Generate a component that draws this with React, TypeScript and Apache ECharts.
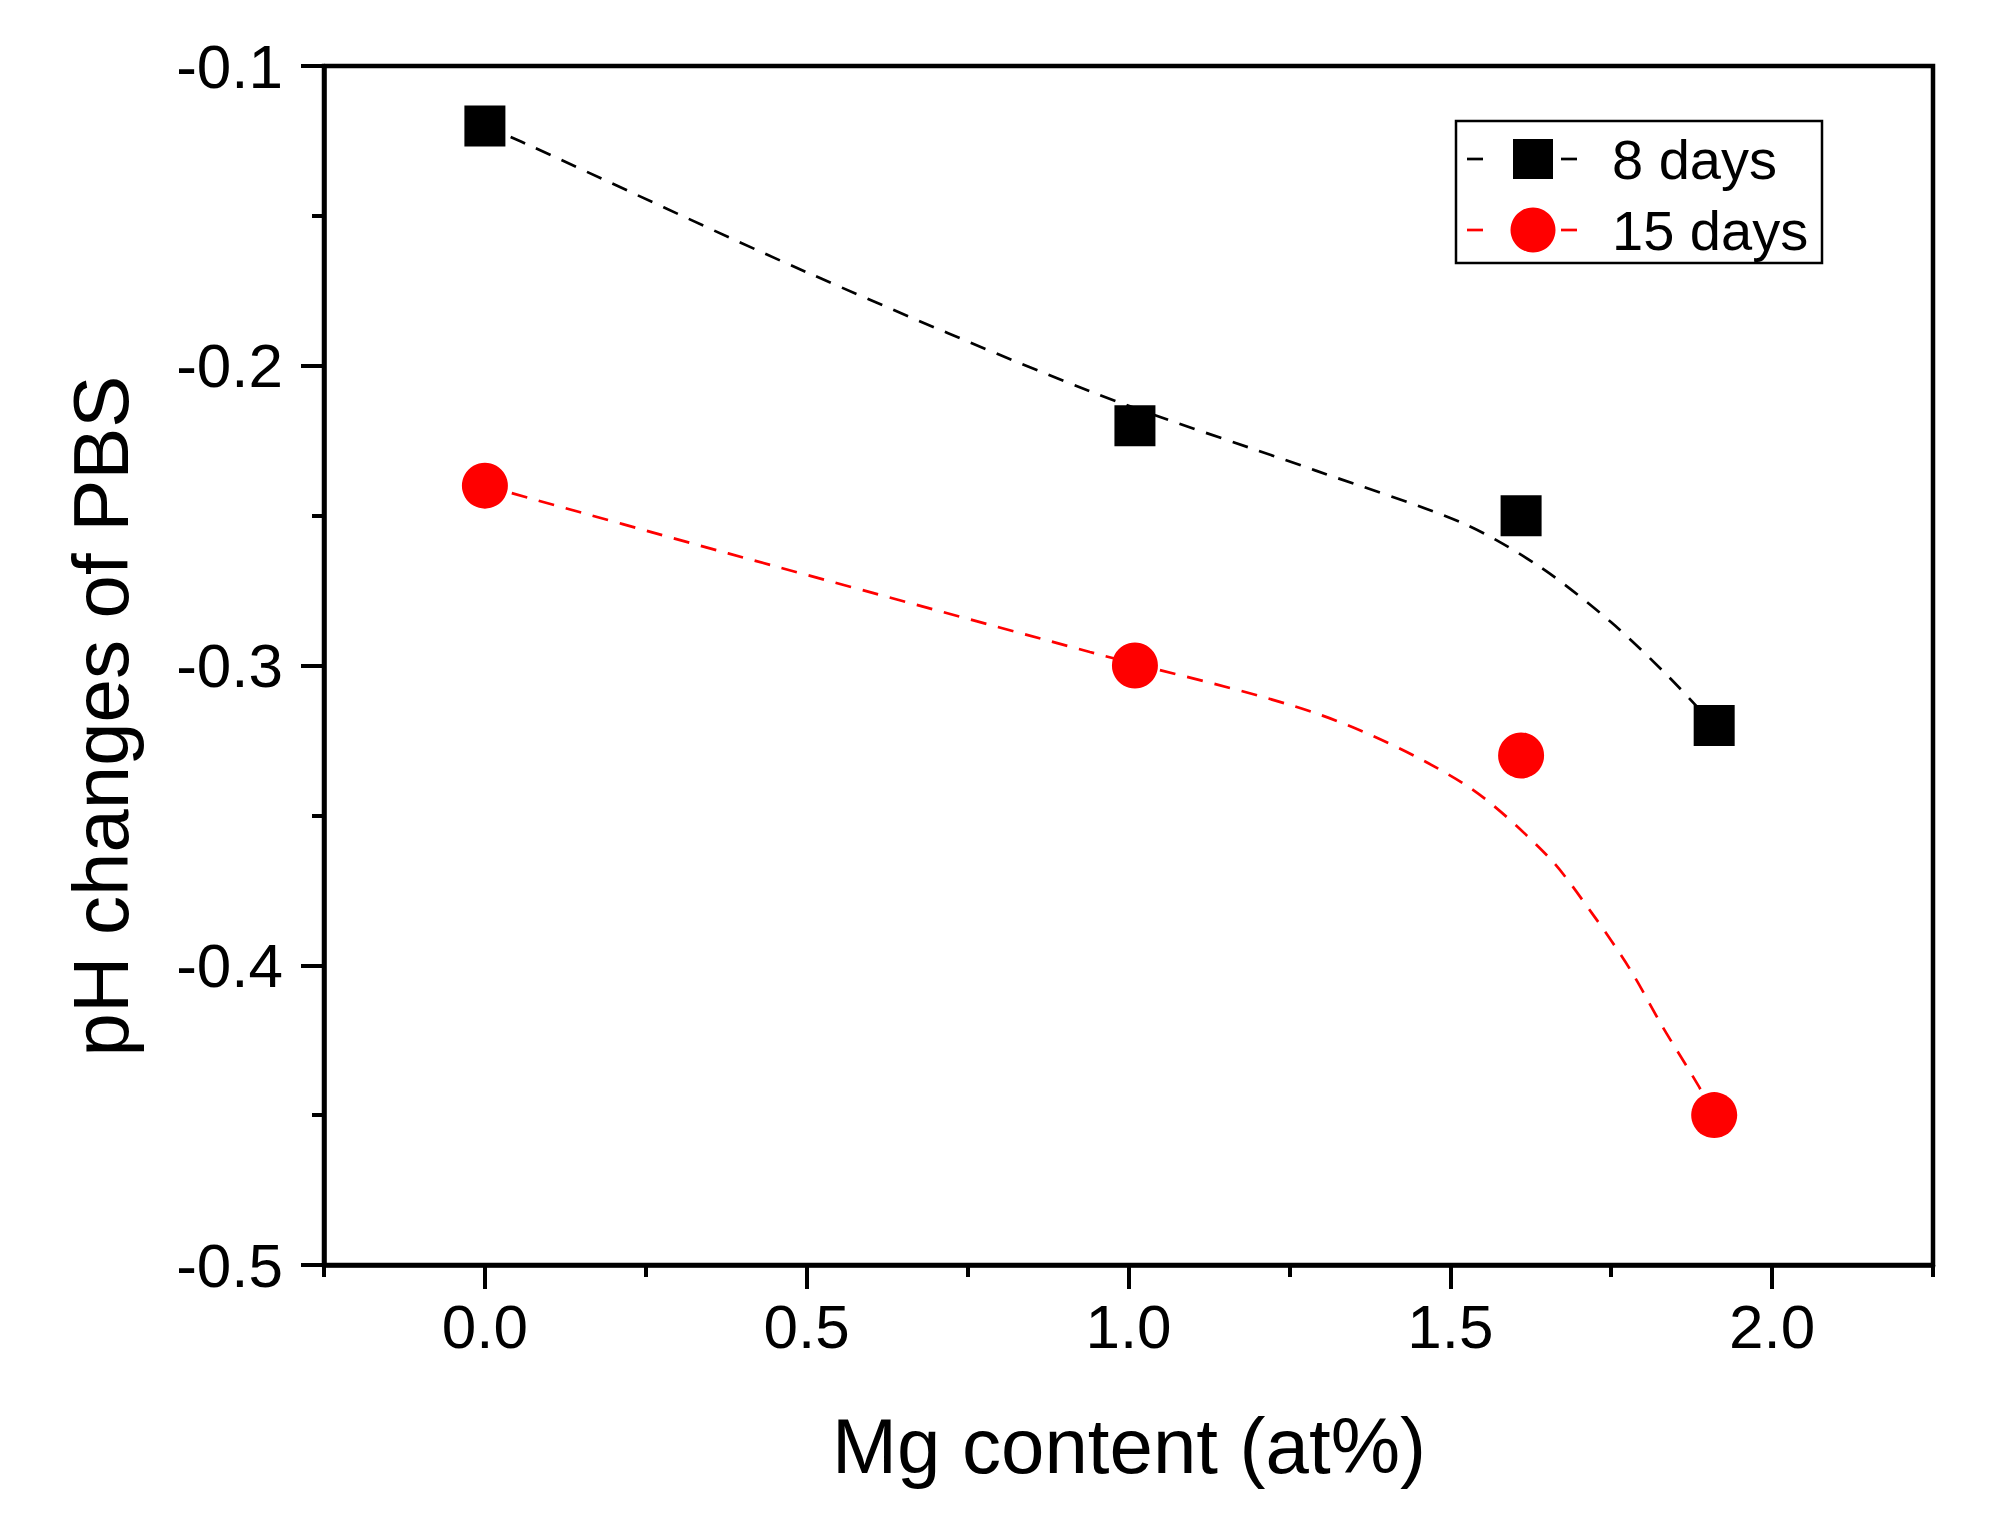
import React, { useEffect, useRef } from "react";
import * as echarts from "echarts";

// ---- data ----
const xTickValues = [0, 0.5, 1.0, 1.5, 2.0];
const mgContent = [0, 1.01, 1.61, 1.91];
const ph8Days = [-0.12, -0.22, -0.25, -0.32];
const ph15Days = [-0.24, -0.3, -0.33, -0.45];

// dashed fitted curves
const fit8X = [0, 0.056, 0.5, 0.94, 1.29, 1.52, 1.64, 1.75, 1.84, 1.91];
const fit8Y = [-0.12, -0.1252, -0.1688, -0.2085, -0.2349, -0.2526, -0.2672, -0.2856, -0.3039, -0.32];
const fit15X = [0, 0.378, 0.94, 1.3, 1.52, 1.65, 1.72, 1.78, 1.83, 1.885, 1.91];
const fit15Y = [-0.24, -0.2626, -0.2955, -0.3166, -0.3393, -0.3633, -0.3826, -0.4016, -0.4206, -0.44, -0.45];

const seriesNames = ["8 days", "15 days"];
const seriesColors = ["#000000", "#ff0000"];

const FONT = "Liberation Sans, Arial, sans-serif";

export default function App() {
  const ref = useRef<HTMLDivElement>(null);

  useEffect(() => {
    if (!ref.current) return;
    const chart = echarts.init(ref.current, undefined, { renderer: "svg" });

    const pts = (xs: number[], ys: number[]) => xs.map((x, i) => [x, ys[i]]);

    const legendRows = [159, 230];

    const option: any = {
      animation: false,
      backgroundColor: "#ffffff",
      grid: {
        left: 324,
        right: 75,
        top: 66,
        bottom: 263,
        show: true,
        borderColor: "#000",
        borderWidth: 4.5,
        backgroundColor: "transparent",
      },
      xAxis: [
        {
          type: "value",
          min: -0.25,
          max: 2.25,
          position: "bottom",
          axisLine: { show: true, onZero: false, lineStyle: { color: "#000", width: 4.5 } },
          axisTick: {
            show: true,
            customValues: xTickValues,
            length: 24,
            lineStyle: { color: "#000", width: 4 },
          },
          axisLabel: {
            show: true,
            customValues: xTickValues,
            formatter: (v: number) => v.toFixed(1),
            fontSize: 62,
            fontFamily: FONT,
            color: "#000",
            margin: 30,
          },
          splitLine: { show: false },
        },
        {
          type: "value",
          min: -0.25,
          max: 2.25,
          interval: 0.5,
          position: "bottom",
          axisLine: { show: false, onZero: false },
          axisTick: { show: true, length: 12, lineStyle: { color: "#000", width: 4 } },
          axisLabel: { show: false },
          splitLine: { show: false },
        },
      ],
      yAxis: {
        type: "value",
        min: -0.5,
        max: -0.1,
        interval: 0.1,
        axisLine: { show: true, onZero: false, lineStyle: { color: "#000", width: 4.5 } },
        axisTick: { show: true, length: 23, lineStyle: { color: "#000", width: 4 } },
        minorTick: { show: true, splitNumber: 2, length: 12, lineStyle: { color: "#000", width: 4 } },
        axisLabel: {
          formatter: (v: number) => v.toFixed(1),
          fontSize: 62,
          fontFamily: FONT,
          color: "#000",
          margin: 41,
        },
        splitLine: { show: false },
        minorSplitLine: { show: false },
      },
      series: [
        {
          name: seriesNames[0] + " fit",
          type: "line",
          xAxisIndex: 0,
          data: pts(fit8X, fit8Y),
          smooth: 0.3,
          symbol: "none",
          showSymbol: false,
          lineStyle: { color: seriesColors[0], width: 2.7, type: [16, 12] },
          z: 2,
        },
        {
          name: seriesNames[1] + " fit",
          type: "line",
          xAxisIndex: 0,
          data: pts(fit15X, fit15Y),
          smooth: 0.3,
          symbol: "none",
          showSymbol: false,
          lineStyle: { color: seriesColors[1], width: 2.7, type: [16, 12] },
          z: 2,
        },
        {
          name: seriesNames[0],
          type: "scatter",
          xAxisIndex: 0,
          data: pts(mgContent, ph8Days),
          symbol: "rect",
          symbolSize: 41,
          itemStyle: { color: seriesColors[0], opacity: 1 },
          z: 3,
        },
        {
          name: seriesNames[1],
          type: "scatter",
          xAxisIndex: 0,
          data: pts(mgContent, ph15Days),
          symbol: "circle",
          symbolSize: 46,
          itemStyle: { color: seriesColors[1], opacity: 1 },
          z: 3,
        },
      ],
      graphic: [
        {
          type: "text",
          x: 1129,
          y: 1446,
          style: {
            text: "Mg content (at%)",
            fontSize: 78,
            fontFamily: FONT,
            fill: "#000",
            align: "center",
            verticalAlign: "middle",
          },
        },
        {
          type: "text",
          x: 101,
          y: 716,
          rotation: Math.PI / 2,
          style: {
            text: "pH changes of PBS",
            fontSize: 78,
            fontFamily: FONT,
            fill: "#000",
            align: "center",
            verticalAlign: "middle",
          },
        },
        {
          type: "rect",
          shape: { x: 1456, y: 121, width: 366, height: 142 },
          style: { fill: "#fff", stroke: "#000", lineWidth: 2.5 },
          z: 10,
        },
        ...legendRows.flatMap((yy, i) => [
          {
            type: "line",
            shape: { x1: 1467, y1: yy, x2: 1483, y2: yy },
            style: { stroke: seriesColors[i], lineWidth: 2.7 },
            z: 11,
          },
          {
            type: "line",
            shape: { x1: 1561, y1: yy, x2: 1577, y2: yy },
            style: { stroke: seriesColors[i], lineWidth: 2.7 },
            z: 11,
          },
          i === 0
            ? {
                type: "rect",
                shape: { x: 1513, y: yy - 20, width: 40, height: 40 },
                style: { fill: seriesColors[i] },
                z: 11,
              }
            : {
                type: "circle",
                shape: { cx: 1533, cy: yy, r: 22.5 },
                style: { fill: seriesColors[i] },
                z: 11,
              },
          {
            type: "text",
            x: 1612,
            y: yy,
            style: {
              text: seriesNames[i],
              fontSize: 56,
              fontFamily: FONT,
              fill: "#000",
              align: "left",
              verticalAlign: "middle",
            },
            z: 11,
          },
        ]),
      ],
    };

    chart.setOption(option);
    return () => chart.dispose();
  }, []);

  return (
    <div
      ref={ref}
      style={{ position: "absolute", left: 0, top: 0, width: 2008, height: 1528, background: "#fff" }}
    />
  );
}
